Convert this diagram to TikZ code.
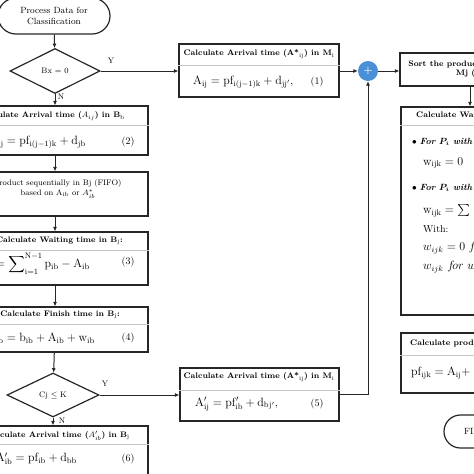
\documentclass[tikz,border=0pt]{standalone}
\usepackage{amsmath,amssymb}
\usepackage{xcolor}
\usepackage{tikz}
\usetikzlibrary{positioning,arrows.meta,shapes.geometric,shapes.misc,calc}
\definecolor{plusblue}{RGB}{74,144,217}

\begin{document}
\begin{tikzpicture}[
    x=1pt, y=-1pt,
    box/.style={rectangle, draw=black!85, line width=1.2pt, inner sep=0pt},
    term/.style={rounded rectangle, draw=black!85, line width=1.2pt, inner sep=0pt, align=center, font=\small},
    decide/.style={diamond, draw=black!85, line width=1.2pt, inner sep=0pt, font=\footnotesize},
    head/.style={font=\footnotesize\bfseries, inner sep=0pt},
    txt/.style={font=\footnotesize, inner sep=0pt, align=center},
    eqn/.style={font=\fontsize{11.5}{14}\selectfont, inner sep=0pt},
    tag/.style={font=\normalsize, inner sep=0pt},
    sep/.style={draw=black!22, line width=0.8pt},
    yn/.style={font=\footnotesize, inner sep=0pt},
    arr/.style={-{Latex[length=4.5pt,width=4pt]}, line width=1pt, draw=black!85},
    plus/.style={circle, fill=plusblue, minimum size=20pt, inner sep=0pt, text=white, font=\bfseries}
]
\useasboundingbox (0,0) rectangle (474,474);
\clip (0,0) rectangle (474,474);

% ============================================================
% LEFT COLUMN (buffer B)
% ============================================================
\node[term, minimum width=112pt, minimum height=36pt] (start) at (54,16) {Process Data for\\Classification};

\node[decide, minimum width=90pt, minimum height=45pt] (d1) at (55,71) {Bx = 0};

\node[box, minimum width=186pt, minimum height=49pt] (b2) at (55,130.5) {};
\draw[sep] (b2.west |- 0,125) -- (b2.east |- 0,125);
\node[head, anchor=east] (b2h) at (125,116) {Calculate Arrival time ($A_{ij}$) in B$_\mathrm{b}$};
\node[eqn, anchor=east] (b2eq) at (86,142) {$\mathrm{A_{ij} = pf_{i(j-1)k} + d_{jb}}$};
\node[tag] (b2t) at (128,142) {(2)};

\node[box, minimum width=186pt, minimum height=44pt] (b3) at (55,194) {};
\node[txt] (b3t) at (58,189) {product sequentially in Bj (FIFO)\\based on A$_\mathrm{ib}$ or $A^{*}_{ib}$};

\node[box, minimum width=186pt, minimum height=53pt] (b4) at (55,258.5) {};
\draw[sep] (b4.west |- 0,250) -- (b4.east |- 0,250);
\node[head, anchor=east] (b4h) at (123,241) {Calculate Waiting time in B$_\mathrm{j}$:};
\node[eqn, anchor=east] (b4eq) at (90,264) {$\mathrm{w_{ib}} = \displaystyle\sum\nolimits_{\mathrm{i=1}}^{\mathrm{N-1}} \mathrm{p_{ib} - A_{ib}}$};
\node[tag] (b4t) at (128,262) {(3)};

\node[box, minimum width=186pt, minimum height=45pt] (b5) at (55,329.5) {};
\draw[sep] (b5.west |- 0,324) -- (b5.east |- 0,324);
\node[head, anchor=east] (b5h) at (120,315) {Calculate Finish time in B$_\mathrm{j}$:};
\node[eqn, anchor=east] (b5eq) at (95,338) {$\mathrm{f_{ib} = b_{ib} + A_{ib} + w_{ib}}$};
\node[tag] (b5t) at (128,338) {(4)};

\node[decide, minimum width=92pt, minimum height=44pt] (d2) at (53,395) {Cj $\le$ K};

\node[box, minimum width=186pt, minimum height=64pt] (b6) at (55,458) {};
\draw[sep] (b6.west |- 0,444) -- (b6.east |- 0,444);
\node[head, anchor=east] (b6h) at (130,436) {Calculate Arrival time ($A'_{ib}$) in B$_\mathrm{j}$};
\node[eqn, anchor=east] (b6eq) at (77,459) {$\mathrm{A'_{ib} = pf_{ib} + d_{bb}}$};
\node[tag] (b6t) at (128,459) {(6)};

\node[yn] (y1) at (111,61) {Y};
\node[yn] (n1) at (61,97) {N};
\node[yn] (y2) at (105,384) {Y};
\node[yn] (n2) at (62,421) {N};

% ============================================================
% MIDDLE COLUMN (machine M)
% ============================================================
\node[box, minimum width=160pt, minimum height=53pt] (b1) at (259,70.5) {};
\draw[sep] (b1.west |- 0,65) -- (b1.east |- 0,65);
\node[head] (b1h) at (259,54) {Calculate Arrival time (A*$_\mathrm{ij}$) in M$_\mathrm{i}$};
\node[eqn, anchor=west] (b1eq) at (193,82) {$\mathrm{A_{ij} = pf_{i(j-1)k} + d_{jj'}},$};
\node[tag] (b1t) at (317,82) {(1)};

\node[box, minimum width=159pt, minimum height=53pt] (m5) at (259.5,394.5) {};
\draw[sep] (m5.west |- 0,390) -- (m5.east |- 0,390);
\node[head] (m5h) at (259,377) {Calculate Arrival time (A*$_\mathrm{ij}$) in M$_\mathrm{i}$};
\node[eqn, anchor=west] (m5eq) at (195,404) {$\mathrm{A'_{ij} = pf'_{ib} + d_{bj'}},$};
\node[tag] (m5t) at (317,404) {(5)};

\node[plus] (join) at (368,71) {+};

% ============================================================
% RIGHT COLUMN
% ============================================================
\node[box, minimum width=160pt, minimum height=33pt] (sort) at (480,69.5) {};
\node[head, align=center] (sortt) at (479,69) {Sort the products sequentially in\\Mj (FIFO)};

\node[box, minimum width=160pt, minimum height=208pt] (wait) at (481,211) {};
\draw[sep] (wait.west |- 0,125) -- (wait.east |- 0,125);
\node[head, anchor=west] (waith) at (416,116) {Calculate Waiting time in M$_\mathrm{j}$};
\node[font=\small, anchor=west, inner sep=0pt] (w1) at (412,142) {$\bullet$\ \textbf{\textit{For $\boldsymbol{P_i}$ with}}};
\node[eqn, anchor=west] (w2) at (423,163) {$\mathrm{w_{ijk}} = 0$};
\node[font=\small, anchor=west, inner sep=0pt] (w3) at (412,188) {$\bullet$\ \textbf{\textit{For $\boldsymbol{P_i}$ with}}};
\node[font=\large, anchor=west, inner sep=0pt] (w4) at (423,211) {$\mathrm{w_{ijk}} = \sum$};
\node[font=\normalsize, anchor=west, inner sep=0pt] (w5) at (423,229) {With:};
\node[eqn, anchor=west] (w6) at (423,248) {$w_{ijk} = 0\ f\!or$};
\node[eqn, anchor=west] (w7) at (423,267) {$w_{ijk}\ f\!or\ w$};

\node[box, minimum width=160pt, minimum height=60pt] (prod) at (481,363) {};
\draw[sep] (prod.west |- 0,355) -- (prod.east |- 0,355);
\node[head, anchor=west] (prodh) at (410,343) {Calculate production};
\node[font=\large, anchor=west, inner sep=0pt] (prodeq) at (411,373) {$\mathrm{pf_{ijk} = A_{ij} +}$};

\node[term, minimum width=72pt, minimum height=33pt] (finish) at (480,431.5) {FINISH};

% ============================================================
% CONNECTORS
% ============================================================
\draw[arr] (start) -- (d1);
\draw[arr] (d1) -- (b2);
\draw[arr] (d1.east) -- (b1.west |- d1.east);
\draw[arr] (b2) -- (b3);
\draw[arr] (b3) -- (b4);
\draw[arr] (b4) -- (b5);
\draw[arr] (b5) -- (d2);
\draw[arr] (d2) -- (b6.north -| d2.south);
\draw[arr] (d2.east) -- (m5.west |- d2.east);
\draw[arr] (b1.east |- join) -- (join);
\draw[arr] (join) -- (sort.west |- join);
\draw[arr] (m5.east) -| (join.south);
\draw[arr] (sort.south -| 470,0) -- (wait.north -| 470,0);

\end{tikzpicture}
\end{document}
